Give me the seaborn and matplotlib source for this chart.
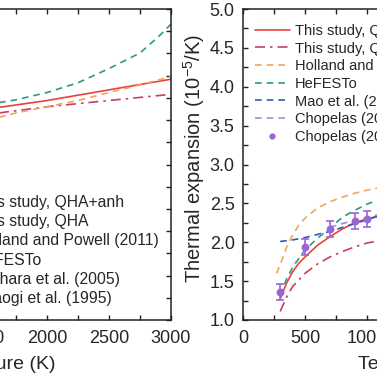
import matplotlib
matplotlib.use("Agg")
import matplotlib.pyplot as plt
import seaborn as sns
from matplotlib.lines import Line2D
from matplotlib.ticker import MultipleLocator

# ---------------- data (left panel) ----------------
left_T_anh = [1500, 2000, 2500, 3000]
left_a_anh = [3.37, 3.47, 3.59, 3.71]
left_T_qha = [1500, 2000, 2500, 3000]
left_a_qha = [3.31, 3.40, 3.47, 3.54]
left_T_hp = [1500, 1750, 2000, 2250, 2500, 2750, 3000]
left_a_hp = [3.24, 3.33, 3.40, 3.47, 3.56, 3.645, 3.74]
left_T_hef = [1500, 1750, 2000, 2250, 2500, 2750, 2900, 3000]
left_a_hef = [3.42, 3.478, 3.56, 3.67, 3.83, 4.005, 4.19, 4.33]

# ---------------- data (right panel) ----------------
T_anh = [300, 350, 400, 450, 500, 600, 700, 800, 900, 1000, 1100]
a_anh = [1.27, 1.47, 1.62, 1.73, 1.81, 1.96, 2.07, 2.17, 2.25, 2.30, 2.34]
T_qha = [300, 350, 400, 500, 600, 700, 800, 900, 1000, 1100]
a_qha = [1.11, 1.29, 1.43, 1.60, 1.72, 1.81, 1.88, 1.94, 1.99, 2.02]
T_hp = [270, 300, 350, 400, 450, 500, 600, 700, 800, 900, 1000, 1100]
a_hp = [1.60, 1.71, 1.93, 2.09, 2.22, 2.31, 2.44, 2.52, 2.58, 2.63, 2.67, 2.70]
T_hef = [300, 350, 400, 500, 600, 700, 800, 900, 1000, 1100]
a_hef = [1.32, 1.52, 1.68, 1.90, 2.05, 2.18, 2.32, 2.41, 2.49, 2.55]
T_mao = [300, 400, 500, 600, 700, 800, 900, 1000, 1100]
a_mao = [2.01, 2.03, 2.06, 2.10, 2.14, 2.19, 2.24, 2.29, 2.34]
T_chop_line = [700, 800, 900, 1000, 1100]
a_chop_line = [2.19, 2.24, 2.28, 2.32, 2.36]
T_chop_pts = [300, 500, 700, 900, 1000]
a_chop_pts = [1.36, 1.94, 2.17, 2.27, 2.30]
err_chop_pts = [0.10, 0.10, 0.10, 0.10, 0.10]

labels_right = ["This study, QHA+anh", "This study, QHA", "Holland and Powell (2011)",
                "HeFESTo", "Mao et al. (2015)", "Chopelas (2000)", "Chopelas (2000)"]
labels_left = ["This study, QHA+anh", "This study, QHA", "Holland and Powell (2011)",
               "HeFESTo", "Ishihara et al. (2005)", "Akaogi et al. (1995)"]

# ---------------- style ----------------
sns.set_theme(style="ticks")
plt.rcParams["font.family"] = ["Liberation Sans", "DejaVu Sans"]
plt.rcParams["mathtext.default"] = "regular"

C_RED = "#E8423C"
C_DD = "#C8405A"
C_OR = "#F4A35E"
C_GR = "#2E9B7C"
C_BL = "#2F5DB3"
C_PU = "#A48BE0"
C_PT = "#9A66D6"

LW = 1.2
DASH = (0, (4, 3))
DASHDOT = (0, (6, 3, 1.5, 3))

fig = plt.figure(figsize=(3.77, 3.77), dpi=100)
W = 377.0
axL = fig.add_axes([-201 / W, 57 / W, 372 / W, 311 / W])
axR = fig.add_axes([243 / W, 57 / W, 372 / W, 311 / W])

# left panel
sns.lineplot(x=left_T_anh, y=left_a_anh, ax=axL, color=C_RED, lw=LW, linestyle="-")
sns.lineplot(x=left_T_qha, y=left_a_qha, ax=axL, color=C_DD, lw=LW, linestyle=DASHDOT)
sns.lineplot(x=left_T_hp, y=left_a_hp, ax=axL, color=C_OR, lw=LW, linestyle=DASH)
sns.lineplot(x=left_T_hef, y=left_a_hef, ax=axL, color=C_GR, lw=LW, linestyle=DASH)

hL = [Line2D([], [], color=C_RED, lw=LW),
      Line2D([], [], color=C_DD, lw=LW, linestyle=DASHDOT),
      Line2D([], [], color=C_OR, lw=LW, linestyle=DASH),
      Line2D([], [], color=C_GR, lw=LW, linestyle=DASH),
      Line2D([], [], color="#555555", marker="s", ls="none", ms=5),
      Line2D([], [], color="#888888", marker="^", ls="none", ms=5)]
axL.legend(hL, labels_left, loc="lower right", bbox_to_anchor=(0.966, 0.045),
           frameon=False, fontsize=11.3, handlelength=2.4, handletextpad=0.35,
           labelspacing=0.27, borderpad=0, borderaxespad=0)

# right panel
sns.lineplot(x=T_anh, y=a_anh, ax=axR, color=C_RED, lw=LW, linestyle="-")
sns.lineplot(x=T_qha, y=a_qha, ax=axR, color=C_DD, lw=LW, linestyle=DASHDOT)
sns.lineplot(x=T_hp, y=a_hp, ax=axR, color=C_OR, lw=LW, linestyle=DASH)
sns.lineplot(x=T_hef, y=a_hef, ax=axR, color=C_GR, lw=LW, linestyle=DASH)
sns.lineplot(x=T_mao, y=a_mao, ax=axR, color=C_BL, lw=LW, linestyle=DASH)
sns.lineplot(x=T_chop_line, y=a_chop_line, ax=axR, color=C_PU, lw=LW, linestyle=DASH)
axR.errorbar(T_chop_pts, a_chop_pts, yerr=err_chop_pts, fmt="none", ecolor=C_PT,
             elinewidth=1.2, capsize=3, capthick=1.2)
sns.scatterplot(x=T_chop_pts, y=a_chop_pts, ax=axR, color=C_PT, s=32, linewidth=0, zorder=5)

hR = [Line2D([], [], color=C_RED, lw=LW),
      Line2D([], [], color=C_DD, lw=LW, linestyle=DASHDOT),
      Line2D([], [], color=C_OR, lw=LW, linestyle=DASH),
      Line2D([], [], color=C_GR, lw=LW, linestyle=DASH),
      Line2D([], [], color=C_BL, lw=LW, linestyle=DASH),
      Line2D([], [], color=C_PU, lw=LW, linestyle=DASH),
      Line2D([], [], color=C_PT, marker="o", ls="none", ms=4.5, mew=0)]
axR.legend(hR, labels_right, loc="upper left", bbox_to_anchor=(0.032, 0.952),
           frameon=False, fontsize=10.5, handlelength=2.4, handletextpad=0.35,
           labelspacing=0.25, borderpad=0, borderaxespad=0)

for ax in (axL, axR):
    ax.set_xlim(0, 3000)
    ax.xaxis.set_major_locator(MultipleLocator(500))
    ax.xaxis.set_minor_locator(MultipleLocator(250))
    ax.yaxis.set_major_locator(MultipleLocator(0.5))
    ax.yaxis.set_minor_locator(MultipleLocator(0.25))
    ax.tick_params(which="both", direction="in", top=True, right=True,
                   length=3.5, width=1.0, color="#222222", labelsize=13)
    ax.tick_params(axis="x", which="major", pad=7)
    ax.tick_params(axis="y", which="major", pad=6)
    for s in ax.spines.values():
        s.set_color("#222222")
        s.set_linewidth(1.1)
    ax.set_xlabel("Temperature (K)", fontsize=14, labelpad=7)

axL.set_ylim(1.0, 4.5)
axR.set_ylim(1.0, 5.0)
axR.set_ylabel("Thermal expansion (10$^{-5}$/K)", fontsize=14.5)
axR.yaxis.set_label_coords(-0.097, 0.52)

fig.savefig("out.png", dpi=100)
